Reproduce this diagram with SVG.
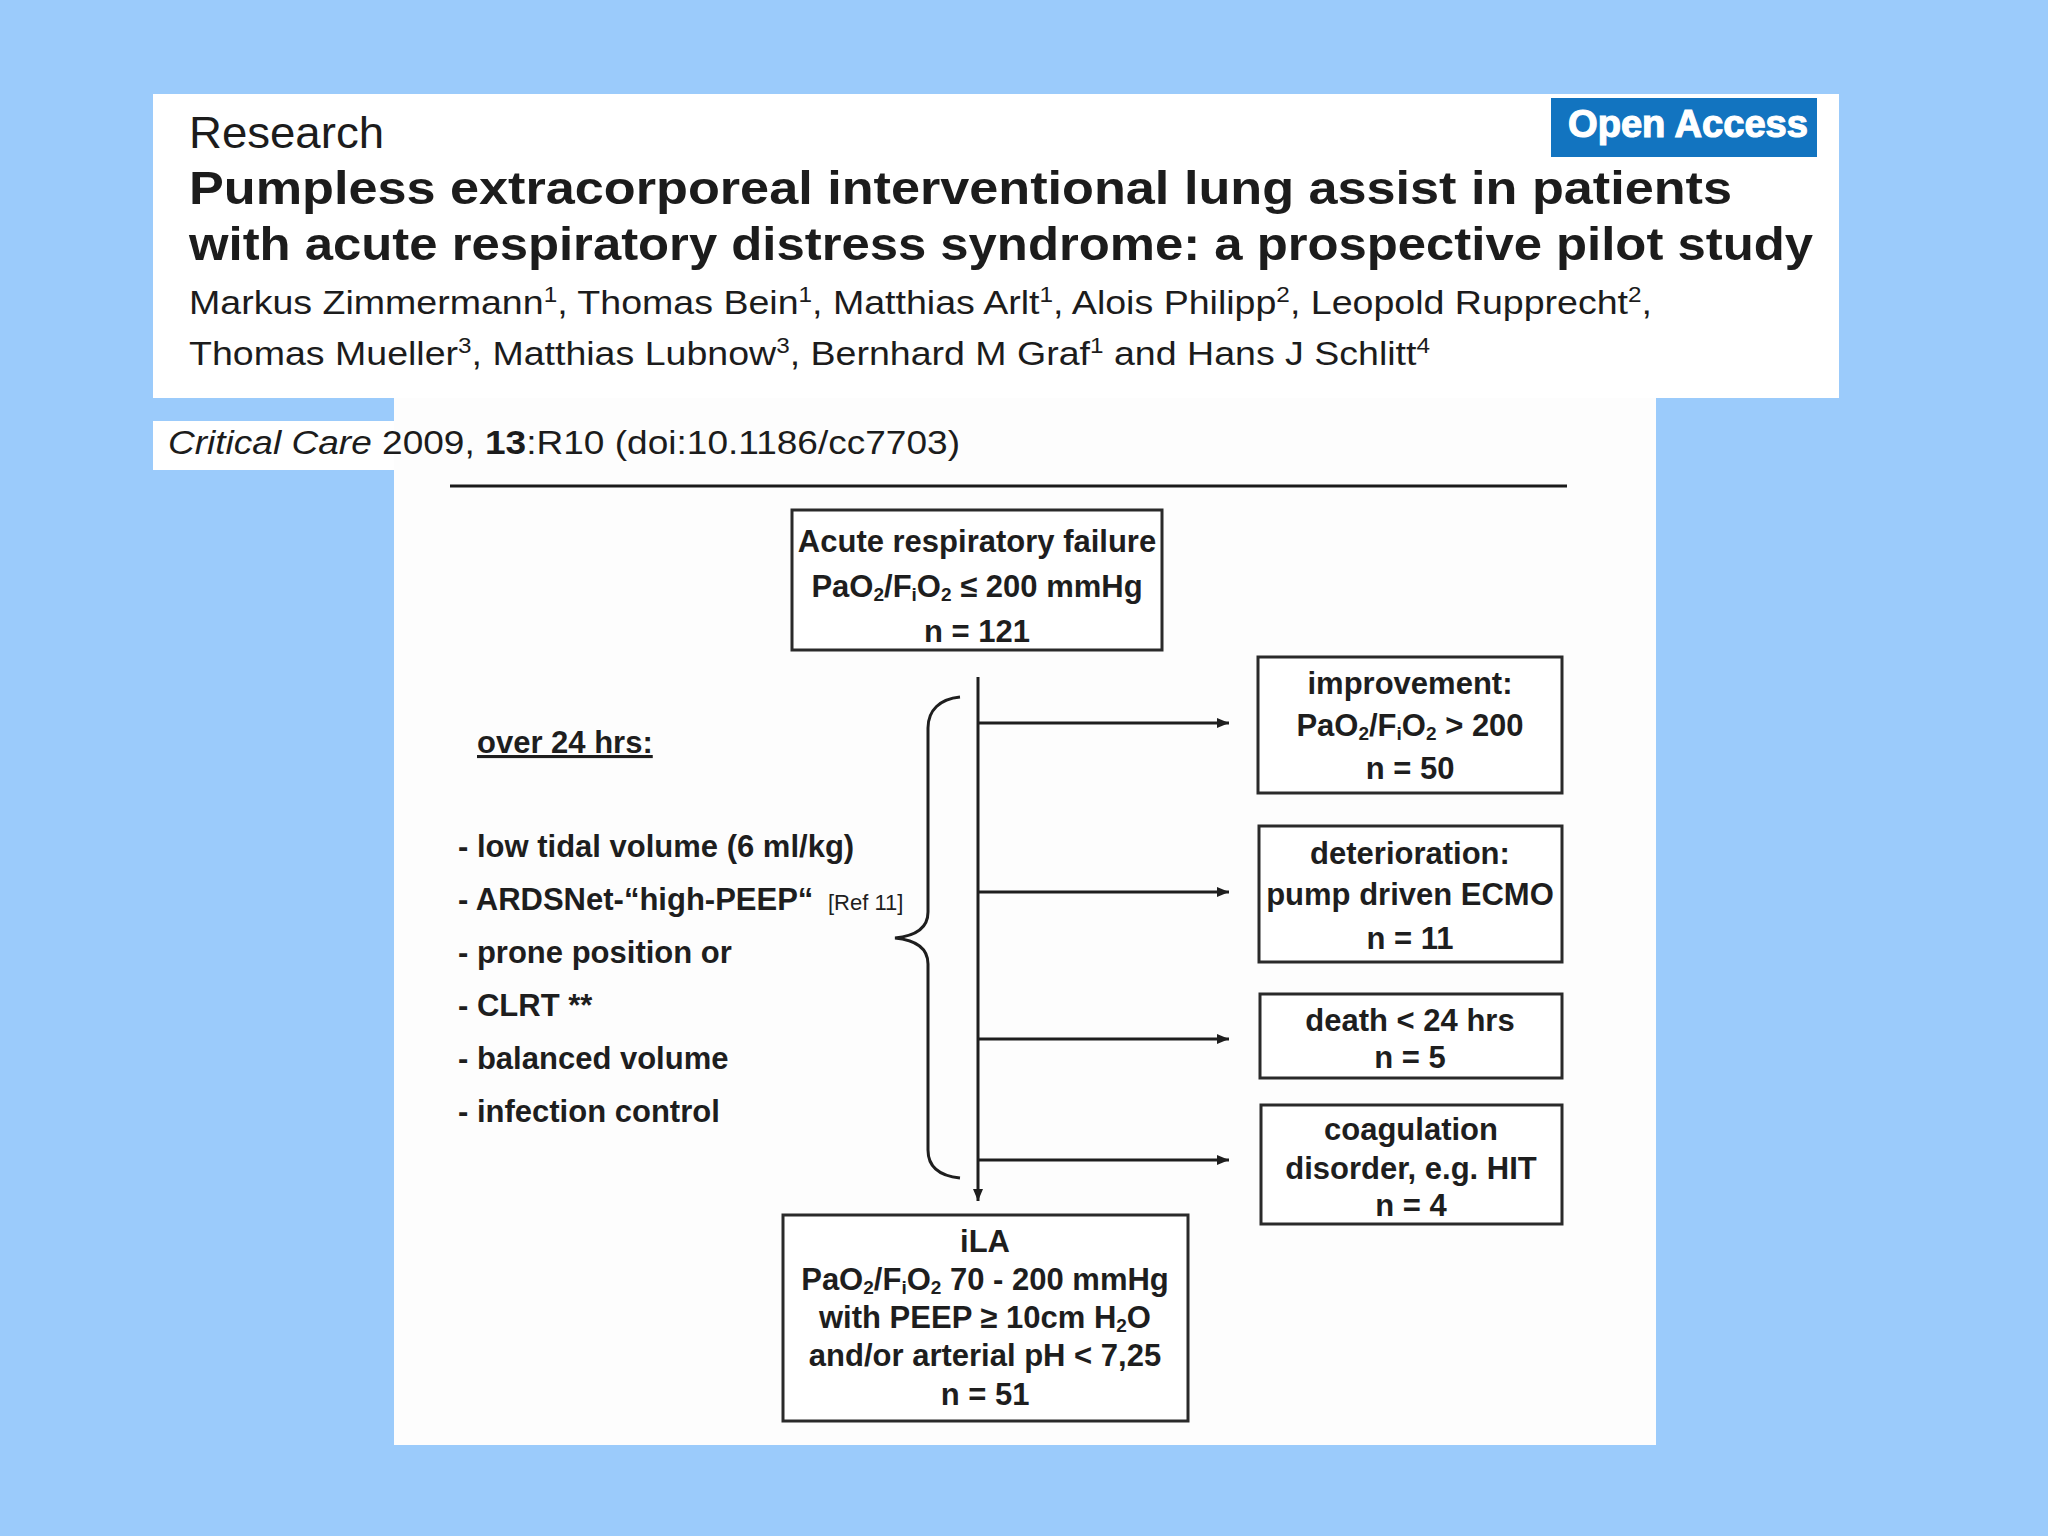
<svg xmlns="http://www.w3.org/2000/svg" width="2048" height="1536" viewBox="0 0 2048 1536">
<defs>
<style>
.hdr{font-family:"Liberation Sans",Arial,sans-serif;fill:#1c1c1c}
.t{font-family:"Liberation Sans",Arial,sans-serif;font-weight:bold;font-size:31px;fill:#1e1e1e}
.c{text-anchor:middle}
.s{font-size:19px}
.box{fill:#ffffff;stroke:#2a2a2a;stroke-width:3}
.conn{stroke:#1e1e1e;stroke-width:3;fill:none}
</style>
<marker id="ah" markerUnits="userSpaceOnUse" markerWidth="12" markerHeight="10" refX="12" refY="5" orient="auto">
<path d="M0,0 L12,5 L0,10 z" fill="#1e1e1e"/>
</marker>
</defs>
<rect x="0" y="0" width="2048" height="1536" fill="#9BCBFB"/>
<!-- header -->
<rect x="153" y="94" width="1686" height="304" fill="#ffffff"/>
<rect x="394" y="398" width="1262" height="1047" fill="#fdfdfd"/>
<rect x="153" y="421" width="241" height="49" fill="#ffffff"/>
<rect x="1551" y="98" width="266" height="59" fill="#1274C0"/>
<text x="1568" y="137" font-family="Liberation Sans,Arial,sans-serif" font-weight="bold" font-size="38" fill="#ffffff" stroke="#ffffff" stroke-width="1.2" textLength="240" lengthAdjust="spacingAndGlyphs">Open Access</text>
<text class="hdr" x="189" y="148" font-size="45" textLength="195" lengthAdjust="spacingAndGlyphs">Research</text>
<text class="hdr" x="189" y="204" font-size="46" font-weight="bold" fill="#111" textLength="1543" lengthAdjust="spacingAndGlyphs">Pumpless extracorporeal interventional lung assist in patients</text>
<text class="hdr" x="189" y="260" font-size="46" font-weight="bold" fill="#111" textLength="1624" lengthAdjust="spacingAndGlyphs">with acute respiratory distress syndrome: a prospective pilot study</text>
<text class="hdr" x="189" y="314" font-size="34" textLength="1463" lengthAdjust="spacingAndGlyphs">Markus Zimmermann<tspan font-size="22" baseline-shift="super">1</tspan>, Thomas Bein<tspan font-size="22" baseline-shift="super">1</tspan>, Matthias Arlt<tspan font-size="22" baseline-shift="super">1</tspan>, Alois Philipp<tspan font-size="22" baseline-shift="super">2</tspan>, Leopold Rupprecht<tspan font-size="22" baseline-shift="super">2</tspan>,</text>
<text class="hdr" x="189" y="365" font-size="34" textLength="1241" lengthAdjust="spacingAndGlyphs">Thomas Mueller<tspan font-size="22" baseline-shift="super">3</tspan>, Matthias Lubnow<tspan font-size="22" baseline-shift="super">3</tspan>, Bernhard M Graf<tspan font-size="22" baseline-shift="super">1</tspan> and Hans J Schlitt<tspan font-size="22" baseline-shift="super">4</tspan></text>
<text class="hdr" x="168" y="454" font-size="33" textLength="792" lengthAdjust="spacingAndGlyphs"><tspan font-style="italic">Critical Care</tspan> 2009, <tspan font-weight="bold">13</tspan>:R10 (doi:10.1186/cc7703)</text>
<line x1="450" y1="486" x2="1567" y2="486" stroke="#1a1a1a" stroke-width="3"/>

<!-- left notes -->
<g id="notes">
<text class="t" x="477" y="753" text-decoration="underline">over 24 hrs:</text>
<text class="t" x="458" y="857">- low tidal volume (6 ml/kg)</text>
<text class="t" x="458" y="910">- ARDSNet-“high-PEEP“<tspan x="828" font-size="22" font-weight="normal">[Ref 11]</tspan></text>
<text class="t" x="458" y="963">- prone position or</text>
<text class="t" x="458" y="1016">- CLRT **</text>
<text class="t" x="458" y="1069">- balanced volume</text>
<text class="t" x="458" y="1122">- infection control</text>
</g>

<!-- connectors -->
<g id="connectors">
<path class="conn" d="M960,697 C940,699 928,710 928,728 L928,912 C928,928 915,936 895,938 C915,940 928,948 928,964 L928,1150 C928,1168 940,1176 960,1178"/>
<line class="conn" x1="978" y1="677" x2="978" y2="1201" marker-end="url(#ah)"/>
<line class="conn" x1="978" y1="723" x2="1229" y2="723" marker-end="url(#ah)"/>
<line class="conn" x1="978" y1="892" x2="1229" y2="892" marker-end="url(#ah)"/>
<line class="conn" x1="978" y1="1039" x2="1229" y2="1039" marker-end="url(#ah)"/>
<line class="conn" x1="978" y1="1160" x2="1229" y2="1160" marker-end="url(#ah)"/>
</g>

<g id="acute">
<rect class="box" x="792" y="510" width="370" height="140"/>
<text class="t c" x="977" y="552">Acute respiratory failure</text>
<text class="t c" x="977" y="597">PaO<tspan class="s" baseline-shift="-4">2</tspan>/F<tspan class="s" baseline-shift="-4">i</tspan>O<tspan class="s" baseline-shift="-4">2</tspan> ≤ 200 mmHg</text>
<text class="t c" x="977" y="642">n = 121</text>
</g>

<g id="improvement">
<rect class="box" x="1258" y="657" width="304" height="136"/>
<text class="t c" x="1410" y="694">improvement:</text>
<text class="t c" x="1410" y="736">PaO<tspan class="s" baseline-shift="-4">2</tspan>/F<tspan class="s" baseline-shift="-4">i</tspan>O<tspan class="s" baseline-shift="-4">2</tspan> &gt; 200</text>
<text class="t c" x="1410" y="779">n = 50</text>
</g>

<g id="deterioration">
<rect class="box" x="1259" y="826" width="303" height="136"/>
<text class="t c" x="1410" y="864">deterioration:</text>
<text class="t c" x="1410" y="905">pump driven ECMO</text>
<text class="t c" x="1410" y="949">n = 11</text>
</g>

<g id="death">
<rect class="box" x="1260" y="994" width="302" height="84"/>
<text class="t c" x="1410" y="1031">death &lt; 24 hrs</text>
<text class="t c" x="1410" y="1068">n = 5</text>
</g>

<g id="coagulation">
<rect class="box" x="1261" y="1105" width="301" height="119"/>
<text class="t c" x="1411" y="1140">coagulation</text>
<text class="t c" x="1411" y="1179">disorder, e.g. HIT</text>
<text class="t c" x="1411" y="1216">n = 4</text>
</g>

<g id="ila">
<rect class="box" x="783" y="1215" width="405" height="206"/>
<text class="t c" x="985" y="1252">iLA</text>
<text class="t c" x="985" y="1290">PaO<tspan class="s" baseline-shift="-4">2</tspan>/F<tspan class="s" baseline-shift="-4">i</tspan>O<tspan class="s" baseline-shift="-4">2</tspan> 70 - 200 mmHg</text>
<text class="t c" x="985" y="1328">with PEEP ≥ 10cm H<tspan class="s" baseline-shift="-4">2</tspan>O</text>
<text class="t c" x="985" y="1366">and/or arterial pH &lt; 7,25</text>
<text class="t c" x="985" y="1405">n = 51</text>
</g>
</svg>
